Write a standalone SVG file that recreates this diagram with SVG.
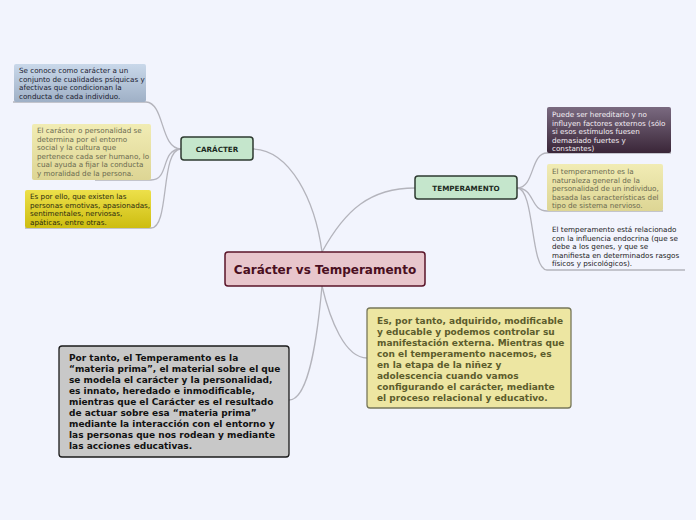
<svg xmlns="http://www.w3.org/2000/svg" width="696" height="520" viewBox="0 0 696 520">
<defs>
<linearGradient id="gBlue" x1="0" y1="0" x2="0" y2="1"><stop offset="0" stop-color="#c9d8ea"/><stop offset="1" stop-color="#9fb0c6"/></linearGradient>
<linearGradient id="gPale" x1="0" y1="0" x2="0" y2="1"><stop offset="0" stop-color="#f1ecb4"/><stop offset="1" stop-color="#ddd594"/></linearGradient>
<linearGradient id="gYel" x1="0" y1="0" x2="0" y2="1"><stop offset="0" stop-color="#ede04a"/><stop offset="1" stop-color="#cdbd10"/></linearGradient>
<linearGradient id="gPur" x1="0" y1="0" x2="0" y2="1"><stop offset="0" stop-color="#7a6a80"/><stop offset="1" stop-color="#3a2638"/></linearGradient>
</defs>
<style>
.sm{font-family:"DejaVu Sans",Verdana,sans-serif;font-size:7.2px}
.bd{font-family:"DejaVu Sans",Verdana,sans-serif;font-size:9px;font-weight:bold}
.c{fill:none;stroke:#b4b4bc;stroke-width:1.3}
.topic{fill:#c5e6cc;stroke:#2e3a30;stroke-width:1.5}
</style>
<rect width="696" height="520" fill="#f2f4fd"/>
<g id="connectors">
<path class="c" d="M322,252 C315,200 290,150 253,149"/>
<path class="c" d="M322,252 C345,210 370,188 415,188"/>
<path class="c" d="M322,286 C318,330 310,400 289,400"/>
<path class="c" d="M322,286 C330,320 345,358 367,358"/>
<path class="c" d="M181,149 C160,149 165,103 146,102 L13,102"/>
<path class="c" d="M181,149 C160,149 170,180 151,180 L95,180"/>
<path class="c" d="M181,149 C160,149 170,228 151,228 L25,228"/>
<path class="c" d="M517,188 C535,188 530,153 547,153 L671,153"/>
<path class="c" d="M517,188 C535,188 530,211 547,211 L663,211"/>
<path class="c" d="M517,188 C535,188 530,270 547,270 L685,270"/>
</g>
<g id="center">
<rect x="225" y="252" width="200" height="34" rx="3" fill="#e8c6cc" stroke="#5a1428" stroke-width="1.5"/>
<text x="325" y="273.5" text-anchor="middle" font-family="DejaVu Sans,Verdana,sans-serif" font-size="12" font-weight="bold" fill="#4a0f1f">Carácter vs Temperamento</text>
</g>
<g id="caracter">
<rect class="topic" x="181" y="137" width="72" height="23" rx="3"/>
<text x="217" y="152" text-anchor="middle" class="sm" font-size="8.5" font-weight="bold" fill="#1c2a1e">CARÁCTER</text>
</g>
<g id="temperamento">
<rect class="topic" x="415" y="176" width="102" height="23" rx="3"/>
<text x="466" y="191" text-anchor="middle" class="sm" font-size="8.5" font-weight="bold" fill="#1c2a1e">TEMPERAMENTO</text>
</g>
<g id="n1">
<rect x="14" y="64" width="132" height="38" rx="2" fill="url(#gBlue)"/>
<text class="sm" fill="#1a2030"><tspan x="19" y="73">Se conoce como carácter a un</tspan><tspan x="19" y="81.5">conjunto de cualidades psíquicas y</tspan><tspan x="19" y="90">afectivas que condicionan la</tspan><tspan x="19" y="98.5">conducta de cada individuo.</tspan></text>
</g>
<g id="n2">
<rect x="32" y="124" width="119" height="56" rx="2" fill="url(#gPale)"/>
<text class="sm" fill="#6a6a50"><tspan x="37" y="133">El carácter o personalidad se</tspan><tspan x="37" y="141.5">determina por el entorno</tspan><tspan x="37" y="150">social y la cultura que</tspan><tspan x="37" y="158.5">pertenece cada ser humano, lo</tspan><tspan x="37" y="167">cual ayuda a fijar la conducta</tspan><tspan x="37" y="175.5">y moralidad de la persona.</tspan></text>
</g>
<g id="n3">
<rect x="25" y="190" width="126" height="38" rx="2" fill="url(#gYel)"/>
<text class="sm" fill="#2a2a10"><tspan x="30" y="199">Es por ello, que existen las</tspan><tspan x="30" y="207.5">personas emotivas, apasionadas,</tspan><tspan x="30" y="216">sentimentales, nerviosas,</tspan><tspan x="30" y="224.5">apáticas, entre otras.</tspan></text>
</g>
<g id="n4">
<rect x="547" y="107" width="124" height="46" rx="2" fill="url(#gPur)"/>
<text class="sm" fill="#f4eef4"><tspan x="552" y="117">Puede ser hereditario y no</tspan><tspan x="552" y="125.5">influyen factores externos (sólo</tspan><tspan x="552" y="134">si esos estímulos fuesen</tspan><tspan x="552" y="142.5">demasiado fuertes y</tspan><tspan x="552" y="151">constantes)</tspan></text>
</g>
<g id="n5">
<rect x="547" y="164" width="116" height="47" rx="2" fill="url(#gPale)"/>
<text class="sm" fill="#6a6a50"><tspan x="552" y="174">El temperamento es la</tspan><tspan x="552" y="182.5">naturaleza general de la</tspan><tspan x="552" y="191">personalidad de un individuo,</tspan><tspan x="552" y="199.5">basada las características del</tspan><tspan x="552" y="208">tipo de sistema nervioso.</tspan></text>
</g>
<g id="n6">
<text class="sm" fill="#1a1a1a"><tspan x="552" y="232">El temperamento está relacionado</tspan><tspan x="552" y="240.5">con la influencia endocrina (que se</tspan><tspan x="552" y="249">debe a los genes, y que se</tspan><tspan x="552" y="257.5">manifiesta en determinados rasgos</tspan><tspan x="552" y="266">físicos y psicológicos).</tspan></text>
</g>
<g id="n7">
<rect x="367" y="308" width="204" height="100" rx="3" fill="#ede6a2" stroke="#77775a" stroke-width="1.3"/>
<text class="bd" fill="#5c5c2c"><tspan x="377" y="324">Es, por tanto, adquirido, modificable</tspan><tspan x="377" y="335">y educable y podemos controlar su</tspan><tspan x="377" y="346">manifestación externa. Mientras que</tspan><tspan x="377" y="357">con el temperamento nacemos, es</tspan><tspan x="377" y="368">en la etapa de la niñez y</tspan><tspan x="377" y="379">adolescencia cuando vamos</tspan><tspan x="377" y="390">configurando el carácter, mediante</tspan><tspan x="377" y="401">el proceso relacional y educativo.</tspan></text>
</g>
<g id="n8">
<rect x="59" y="346" width="230" height="111" rx="3" fill="#c8c8c8" stroke="#1a1a1a" stroke-width="1.3"/>
<text class="bd" fill="#111"><tspan x="69" y="361">Por tanto, el Temperamento es la</tspan><tspan x="69" y="372">“materia prima”, el material sobre el que</tspan><tspan x="69" y="383">se modela el carácter y la personalidad,</tspan><tspan x="69" y="394">es innato, heredado e inmodificable,</tspan><tspan x="69" y="405">mientras que el Carácter es el resultado</tspan><tspan x="69" y="416">de actuar sobre esa “materia prima”</tspan><tspan x="69" y="427">mediante la interacción con el entorno y</tspan><tspan x="69" y="438">las personas que nos rodean y mediante</tspan><tspan x="69" y="449">las acciones educativas.</tspan></text>
</g>
</svg>
